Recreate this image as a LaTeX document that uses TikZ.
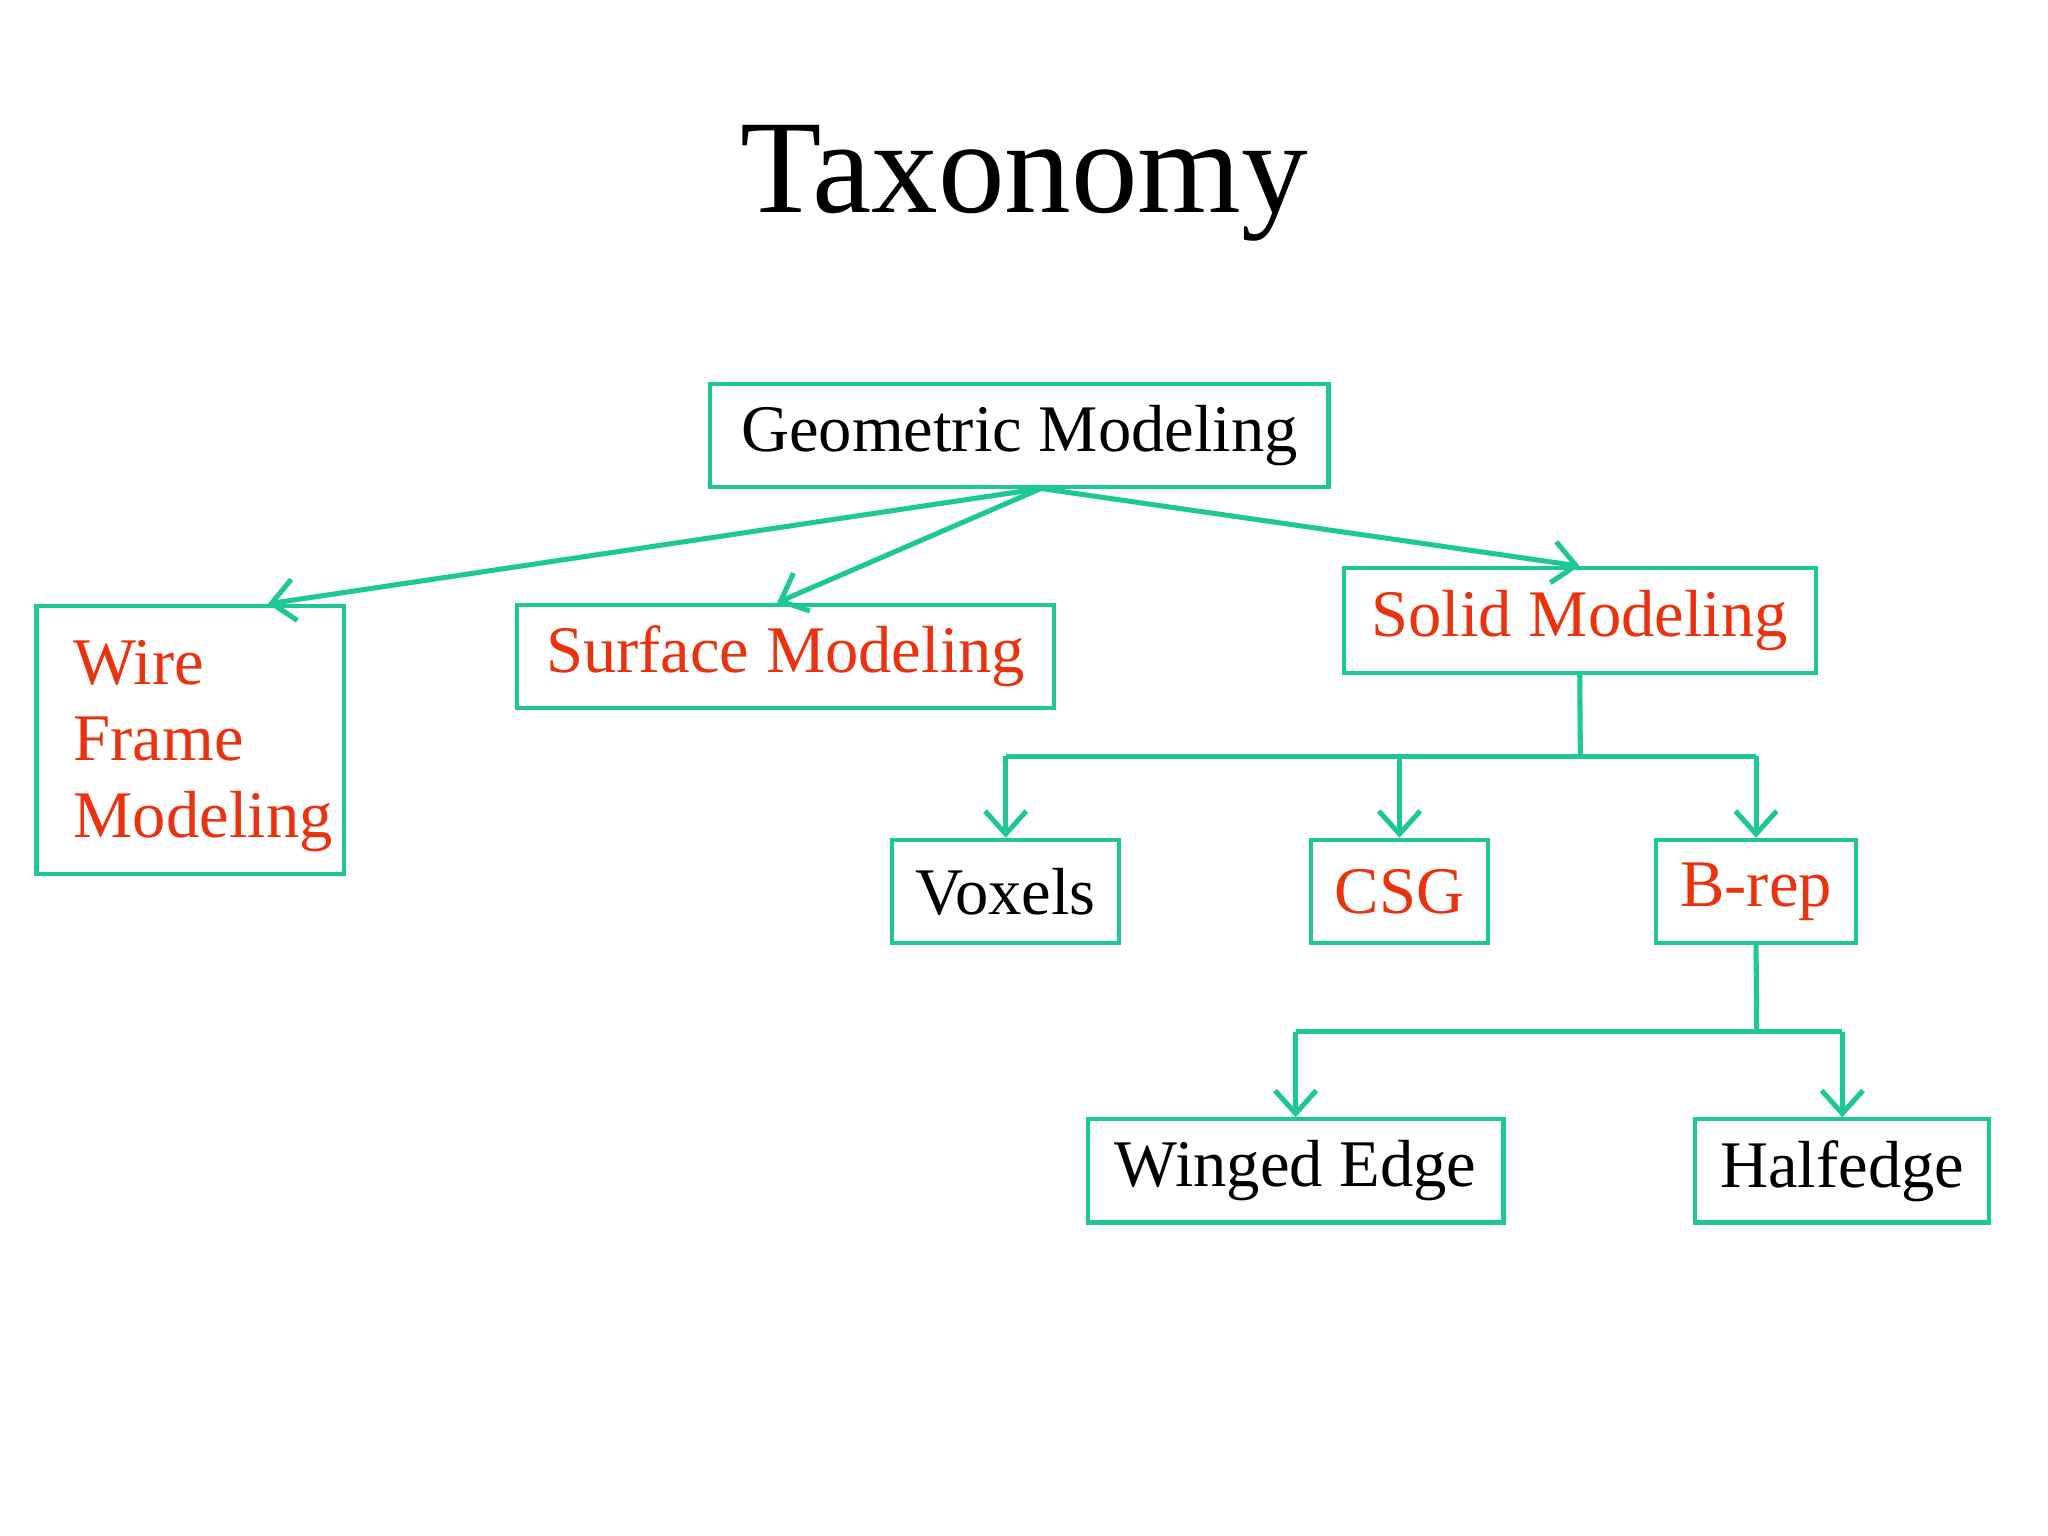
\documentclass[tikz,border=0pt]{standalone}
\usepackage{fontspec}
\setmainfont{Liberation Serif}
\usetikzlibrary{arrows.meta}
\definecolor{ln}{RGB}{30,200,150}
\definecolor{rd}{RGB}{235,50,15}
\tikzset{bx/.style={draw=ln,line width=0.9pt,inner sep=0pt},
 con/.style={draw=ln,line width=1.1pt},
 arr/.style={con,-{Straight Barb[length=5pt,width=9pt]}},
 lb/.style={font=\fontsize{14.5}{17.5}\selectfont}}
\begin{document}
\begin{tikzpicture}[x=0.01cm,y=-0.01cm]
\path[fill=white] (0,0) rectangle (1568,1176);
\node[font=\fontsize{29}{34}\selectfont] (title) at (784,140) {Taxonomy};
\node[bx,minimum width=473\pgflinewidth,minimum width=4.73cm,minimum height=0.79cm,lb] (geo) at (780.5,333.5) {Geometric Modeling};
\node[bx,minimum width=2.35cm,minimum height=2.05cm] (wire) at (145.5,566.5) {};
\node[lb,text=rd,align=left,anchor=north west] (wiret) at (44,478) {Wire\\[-0.9pt]Frame\\[-0.9pt]Modeling};
\node[bx,minimum width=4.11cm,minimum height=0.79cm,lb,text=rd] (surf) at (601.5,502.5) {Surface Modeling};
\node[bx,minimum width=3.61cm,minimum height=0.80cm,lb,text=rd] (solid) at (1209.5,475) {Solid Modeling};
\node[bx,minimum width=1.74cm,minimum height=0.79cm,lb] (vox) at (770,682.5) {Voxels};
\node[bx,minimum width=1.35cm,minimum height=0.79cm,lb,text=rd] (csg) at (1071.5,682.5) {CSG};
\node[bx,minimum width=1.53cm,minimum height=0.79cm,lb,text=rd] (brep) at (1344.5,682.5) {B-rep};
\node[bx,minimum width=3.18cm,minimum height=0.79cm,lb] (wing) at (992,896.5) {Winged Edge};
\node[bx,minimum width=2.25cm,minimum height=0.79cm,lb] (half) at (1410.5,896.5) {Halfedge};
\coordinate (g) at (797,374);
\draw[arr] (g) -- (wire.north -| 205,0);
\draw[arr] (g) -- (surf.north -| 595,0);
\draw[arr] (g) -- (solid.north);
\coordinate (s1) at (1210,579);
\draw[con] (solid.south) -- (s1);
\draw[con] (vox.north |- s1) -- (brep.north |- s1);
\draw[arr] (vox.north |- s1) -- (vox.north);
\draw[arr] (csg.north |- s1) -- (csg.north);
\draw[arr] (brep.north |- s1) -- (brep.north);
\coordinate (b1) at (1345,790);
\draw[con] (brep.south) -- (b1);
\draw[con] (wing.north |- b1) -- (half.north |- b1);
\draw[arr] (wing.north |- b1) -- (wing.north);
\draw[arr] (half.north |- b1) -- (half.north);
\end{tikzpicture}
\end{document}
